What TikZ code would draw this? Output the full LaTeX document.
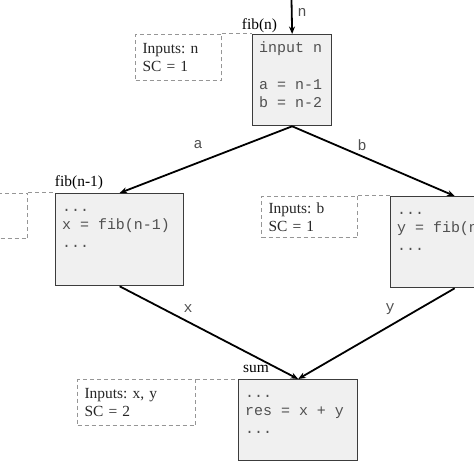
\documentclass[tikz,border=0pt]{standalone}
\usepackage{fontspec}
\setmainfont{Liberation Serif}
\setmonofont{Liberation Mono}
\usepackage{xcolor}
\usetikzlibrary{arrows.meta,positioning}
\definecolor{BoxFill}{RGB}{240,240,240}
\definecolor{BoxEdge}{RGB}{60,60,60}
\definecolor{CodeGray}{RGB}{80,80,80}
\definecolor{InfoDash}{RGB}{150,150,150}
\frenchspacing

\begin{document}
\begin{tikzpicture}[x=1bp, y=-1bp,
    codebox/.style={draw=BoxEdge, fill=BoxFill, line width=1.3bp, anchor=north west, inner sep=0pt},
    codetext/.style={anchor=north west, align=left, inner sep=0pt, text=CodeGray,
        font=\fontsize{15}{18.5}\selectfont\ttfamily},
    infobox/.style={draw=InfoDash, line width=1bp, dash pattern=on 4bp off 3bp, anchor=north west,
        align=left, inner xsep=7bp, inner ysep=0pt, text=black!85,
        font=\fontsize{15.5}{18}\selectfont},
    infolink/.style={draw=InfoDash, line width=1bp, dash pattern=on 4bp off 3bp},
    fnlabel/.style={inner sep=0pt, font=\fontsize{15.5}{18}\selectfont},
    edgelabel/.style={inner sep=0pt, text=CodeGray, font=\fontsize{15}{18}\selectfont\ttfamily},
    flow/.style={line width=1.8bp, -{Stealth[length=7.5bp,width=6bp]}}]
    \useasboundingbox (0,0) rectangle (474,474);
    \clip (0,0) rectangle (474,474);

    % call boxes
    \node[codebox, minimum width=79bp, minimum height=91bp] (fibn) at (252,34) {};
    \node[codebox, minimum width=128bp, minimum height=92bp] (fibna) at (55,193) {};
    \node[codebox, minimum width=128bp, minimum height=91bp] (fibnb) at (390,196) {};
    \node[codebox, minimum width=119bp, minimum height=81bp] (sum) at (238,379) {};

    \node[codetext] (fibncode) at ([xshift=7bp,yshift=-5bp]fibn.north west)
        {\strut input n\\[18.5bp]a = n-1\\b = n-2};
    \node[codetext] (fibnacode) at ([xshift=7bp,yshift=-5bp]fibna.north west)
        {\strut ...\\x = fib(n-1)\\...};
    \node[codetext] (fibnbcode) at ([xshift=7bp,yshift=-5bp]fibnb.north west)
        {\strut ...\\y = fib(n-2)\\...};
    \node[codetext] (sumcode) at ([xshift=7bp,yshift=-5bp]sum.north west)
        {\strut ...\\res = x + y\\...};

    % scheduling notes
    \node[infobox, text width=72bp, minimum height=46bp] (infon) at (135,34) {Inputs: n\\SC = 1};
    \node[infobox, text width=83bp, minimum height=45bp] (infona) at (-70,193) {};
    \node[infobox, text width=82bp, minimum height=41bp] (infonb) at (261,196) {Inputs: b\\SC = 1};
    \node[infobox, text width=104bp, minimum height=46bp] (infosum) at (77,379) {Inputs: x, y\\SC = 2};
    \draw[infolink] (infon.north east) -- (fibn.north west);
    \draw[infolink] (infona.north east) -- (fibna.north west);
    \draw[infolink] (infonb.north east) -- (fibnb.north west);
    \draw[infolink] (infosum.north east) -- (sum.north west);

    \node[fnlabel] (fibnlab) at (259.5,26) {fib(n)};
    \node[fnlabel] (fibnalab) at (79,183) {fib(n-1)};
    \node[fnlabel] (sumlab) at (256,369) {sum};

    % data flow
    \coordinate (entry) at (291.5,0);
    \draw[flow] (entry) -- (fibn.north);
    \draw[flow] (fibn.south) -- (fibna.north);
    \draw[flow] (fibn.south) -- (fibnb.north);
    \draw[flow] (fibna.south) -- (sum.north);
    \draw[flow] (fibnb.south) -- (sum.north);

    \node[edgelabel] (nlab) at (302,12) {n};
    \node[edgelabel] (alab) at (198,145) {a};
    \node[edgelabel] (blab) at (362,145) {b};
    \node[edgelabel] (xlab) at (188,309) {x};
    \node[edgelabel] (ylab) at (390,309) {y};
\end{tikzpicture}
\end{document}
